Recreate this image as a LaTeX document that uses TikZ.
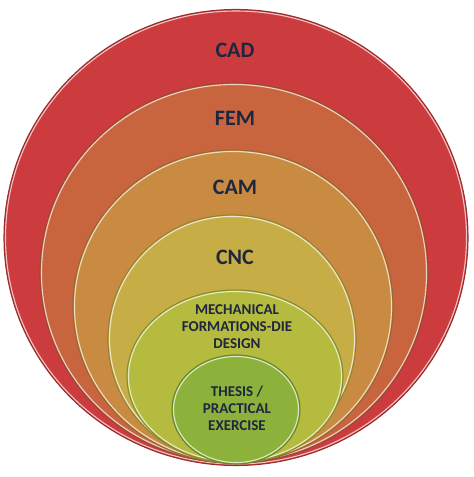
\documentclass[tikz,border=0pt]{standalone}
\usepackage{fontspec}
\setmainfont{Carlito}
\definecolor{txt}{HTML}{1E2640}
\definecolor{cadc}{HTML}{CC3B3D}
\definecolor{femc}{HTML}{C8653F}
\definecolor{camc}{HTML}{C98B42}
\definecolor{cncc}{HTML}{C6AD46}
\definecolor{mecc}{HTML}{B4BB3F}
\definecolor{thec}{HTML}{8DB23B}
\tikzset{
  ring/.style={draw=#1!75!black, line width=1.1pt, fill=#1},
  rim/.style={draw=white, line width=1.1pt, opacity=0.7},
  lbl/.style={font=\bfseries\fontsize{22}{26}\selectfont, text=txt, align=center},
  slbl/.style={font=\bfseries\fontsize{15}{17}\selectfont, text=txt, align=center},
}
\begin{document}
\begin{tikzpicture}[x=1pt,y=-1pt]
\useasboundingbox (0,0) rectangle (474,477);
% CAD
\path[ring=cadc] (236,237.5) ellipse [x radius=232, y radius=228];
\path[rim] (236,237.5) ellipse [x radius=230.5, y radius=226.5];
% FEM
\path[ring=femc] (234,273) ellipse [x radius=194, y radius=190];
\path[rim] (234,273) ellipse [x radius=192.5, y radius=188.5];
% CAM
\path[ring=camc] (233,306.5) ellipse [x radius=160, y radius=156.5];
\path[rim] (233,306.5) ellipse [x radius=158.5, y radius=155];
% CNC
\path[ring=cncc] (232,339) ellipse [x radius=124, y radius=124];
\path[rim] (232,339) ellipse [x radius=122.5, y radius=122.5];
% Mechanical
\path[ring=mecc] (235,376.5) ellipse [x radius=108, y radius=86.5];
\path[rim] (235,376.5) ellipse [x radius=106.5, y radius=85];
% Thesis
\path[ring=thec] (236,409.5) ellipse [x radius=64, y radius=54.5];
\path[rim] (236,409.5) ellipse [x radius=62.5, y radius=53];

\node[lbl] (cad) at (235,50) {CAD};
\node[lbl] (fem) at (235,118) {FEM};
\node[lbl] (cam) at (235,187) {CAM};
\node[lbl] (cnc) at (235,257) {CNC};
\node[slbl] (mech) at (237,327) {MECHANICAL\\FORMATIONS-DIE\\DESIGN};
\node[slbl] (thesis) at (237,408.5) {THESIS /\\PRACTICAL\\EXERCISE};
\end{tikzpicture}
\end{document}
